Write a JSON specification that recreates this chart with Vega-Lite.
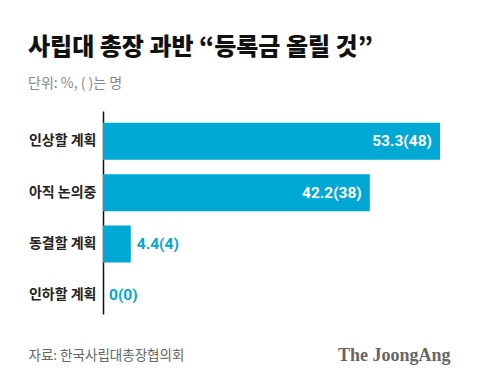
{
  "$schema": "https://vega.github.io/schema/vega-lite/v6.json",
  "width": 337,
  "height": 203,
  "autosize": {"type": "none"},
  "padding": {"left": 103, "top": 111, "right": 40, "bottom": 70},
  "background": "white",
  "config": {
    "view": {"stroke": null},
    "font": "Noto Sans CJK KR"
  },
  "title": {
    "text": "사립대 총장 과반 “등록금 올릴 것”",
    "subtitle": "단위: %, ( )는 명",
    "anchor": "start",
    "frame": "group",
    "dx": -75,
    "offset": 20,
    "font": "Noto Sans CJK KR",
    "fontSize": 24,
    "fontWeight": 900,
    "color": "#111111",
    "subtitleFont": "Noto Sans CJK KR",
    "subtitleFontSize": 14,
    "subtitleColor": "#888888",
    "subtitlePadding": 17
  },
  "data": {
    "values": [
      {"item": "인상할 계획", "pct": 53.3, "n": 48, "label": "53.3(48)"},
      {"item": "아직 논의중", "pct": 42.2, "n": 38, "label": "42.2(38)"},
      {"item": "동결할 계획", "pct": 4.4, "n": 4, "label": "4.4(4)"},
      {"item": "인하할 계획", "pct": 0, "n": 0, "label": "0(0)"}
    ]
  },
  "encoding": {
    "y": {
      "field": "item",
      "type": "nominal",
      "sort": null,
      "scale": {"paddingInner": 0.28, "paddingOuter": 0.115, "align": 1},
      "axis": {
        "title": "The JoongAng",
        "titleAngle": 0,
        "titleX": 347,
        "titleY": 244,
        "titleAlign": "right",
        "titleBaseline": "middle",
        "titleFont": "Liberation Serif",
        "titleFontSize": 18,
        "titleFontWeight": "bold",
        "titleColor": "#666666",
        "domain": true,
        "domainColor": "#111111",
        "domainWidth": 1.5,
        "ticks": false,
        "labelPadding": 7,
        "labelFontSize": 14,
        "labelFontWeight": 600,
        "labelColor": "#222222",
        "grid": false
      }
    },
    "x": {
      "field": "pct",
      "type": "quantitative",
      "scale": {"domain": [0, 53.3], "nice": false},
      "axis": {
        "title": "자료: 한국사립대총장협의회",
        "titleAnchor": "start",
        "titleAlign": "left",
        "titleX": -75,
        "titleY": 41,
        "titleBaseline": "middle",
        "titleFontSize": 13.5,
        "titleFontWeight": "normal",
        "titleColor": "#666666",
        "domain": false,
        "ticks": false,
        "labels": false,
        "grid": false
      }
    }
  },
  "layer": [
    {"mark": {"type": "bar", "color": "#00A8D4"}},
    {
      "transform": [{"filter": "datum.pct > 20"}],
      "mark": {"type": "text", "align": "right", "dx": -8, "color": "white", "fontSize": 15.5, "fontWeight": "bold", "font": "Roboto"},
      "encoding": {"text": {"field": "label"}}
    },
    {
      "transform": [{"filter": "datum.pct <= 20"}],
      "mark": {"type": "text", "align": "left", "dx": 6, "color": "#00A8D4", "fontSize": 15.5, "fontWeight": "bold", "font": "Roboto"},
      "encoding": {"text": {"field": "label"}}
    }
  ]
}
